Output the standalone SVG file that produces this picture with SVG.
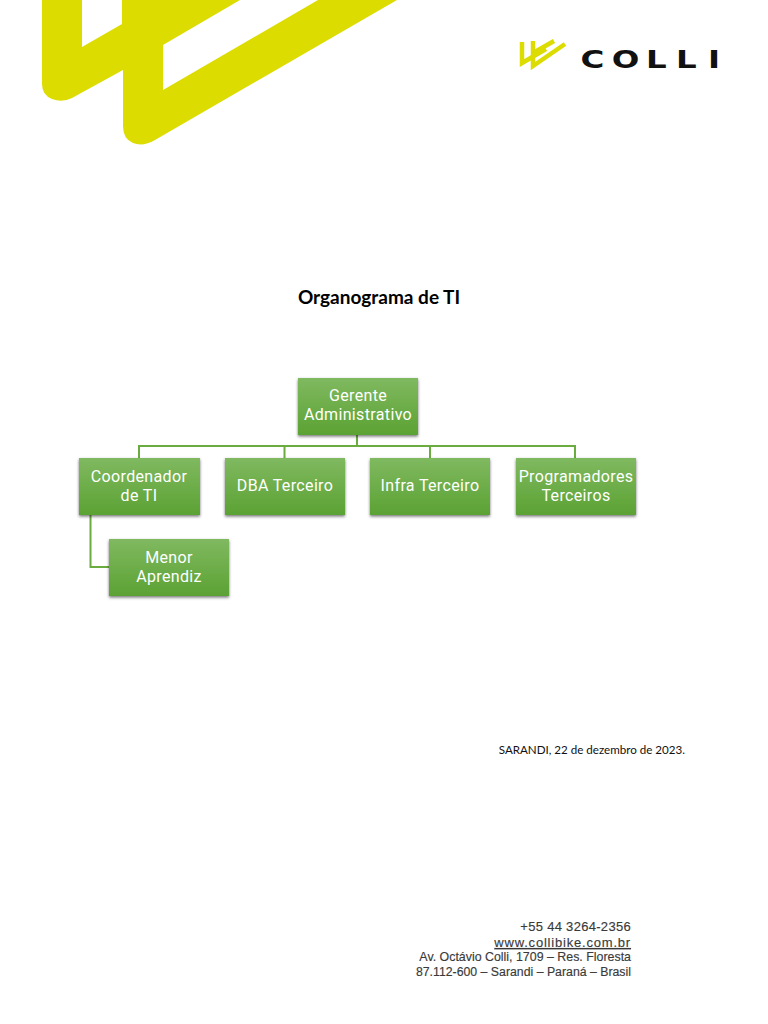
<svg xmlns="http://www.w3.org/2000/svg" width="768" height="1024" viewBox="0 0 768 1024">
<style>
.box{fill:url(#g);filter:url(#sh)}
.lbl{font-family:Roboto,"Open Sans",sans-serif;font-size:16px;letter-spacing:.35px;fill:#fff;text-anchor:middle}
.foot{font-family:"Liberation Sans",Arial,sans-serif;font-size:12.400px;fill:#3a3a3a;text-anchor:end;stroke:#3a3a3a;stroke-width:.15}
.con{fill:none;stroke:#6aac3f;stroke-width:2}
.mark{fill:none;stroke:#dcdc00;stroke-width:4.500}
</style>
<defs>
<linearGradient id="g" x1="0" y1="0" x2="0" y2="1"><stop offset="0" stop-color="#80b960"/><stop offset="1" stop-color="#5ba233"/></linearGradient>
<filter id="sh" x="-10%" y="-15%" width="120%" height="135%"><feDropShadow dx="0" dy="1.500" stdDeviation="1.800" flood-color="#000" flood-opacity=".55"/></filter>
</defs>
<rect width="768" height="1024" fill="#fff"/>
<g id="logo-large">
<path fill="#dcdc00" d="M42 0H82V47L122 24V0H240L163 45V90L318 0H397L155 140Q143 147 133 143Q123 139 123 126V70L72 98Q62 103 52 99Q42 95 42 84Z"/>
</g>
<g id="logo-small">
<path class="mark" d="M522 42V63L546 49M533 41V66L565 44M533 53L554 41"/>
<text y="68" x="446.500 470.500 497 520 544.700" transform="scale(1.300 1)" font-family="'DejaVu Sans',sans-serif" font-weight="700" font-size="25" fill="#111">COLLI</text>
</g>
<text id="title" x="379" y="304" font-family="Lato,'Open Sans',sans-serif" font-weight="700" font-size="19" fill="#000" text-anchor="middle">Organograma de TI</text>
<g id="connectors">
<path class="con" d="M357 435V446M139 458V446H575V458M284.500 446V458M430 446V458M90.500 515V567H109"/>
</g>
<g id="n-gerente"><rect class="box" x="298" y="378" width="120" height="57"/><text class="lbl" x="358" y="401">Gerente</text><text class="lbl" x="358" y="420">Administrativo</text></g>
<g id="n-coord"><rect class="box" x="79" y="458" width="121" height="57"/><text class="lbl" x="139" y="482">Coordenador</text><text class="lbl" x="139" y="501">de TI</text></g>
<g id="n-dba"><rect class="box" x="225" y="458" width="120" height="57"/><text class="lbl" x="285" y="491">DBA Terceiro</text></g>
<g id="n-infra"><rect class="box" x="370" y="458" width="120" height="57"/><text class="lbl" x="430" y="491">Infra Terceiro</text></g>
<g id="n-prog"><rect class="box" x="516" y="458" width="120" height="57"/><text class="lbl" x="576" y="482">Programadores</text><text class="lbl" x="576" y="501">Terceiros</text></g>
<g id="n-menor"><rect class="box" x="109" y="539" width="120" height="57"/><text class="lbl" x="169" y="563">Menor</text><text class="lbl" x="169" y="582">Aprendiz</text></g>
<text id="date" x="685" y="754" font-family="Lato,'Open Sans',sans-serif" font-size="11.600" fill="#111" text-anchor="end">SARANDI, 22 de dezembro de 2023.</text>
<g id="footer">
<text class="foot" x="631" y="931" letter-spacing=".3" style="font-size:13px">+55 44 3264-2356</text>
<text class="foot" x="631" y="947" letter-spacing=".8" text-decoration="underline" style="font-size:13px">www.collibike.com.br</text>
<text class="foot" x="631" y="961">Av. Octávio Colli, 1709 – Res. Floresta</text>
<text class="foot" x="631" y="976" style="font-size:12.300px">87.112-600 – Sarandi – Paraná – Brasil</text>
</g>
</svg>
